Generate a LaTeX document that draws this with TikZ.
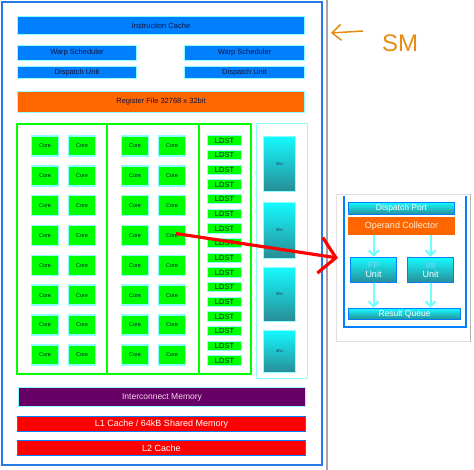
\documentclass[tikz,border=0pt]{standalone}
\usepackage{fontspec}
\setmainfont{Liberation Sans}
\usetikzlibrary{arrows.meta}
\definecolor{smblue}{RGB}{0,128,255}
\definecolor{frameblue}{RGB}{40,120,230}
\definecolor{glow}{RGB}{140,255,255}
\definecolor{ink}{RGB}{20,20,60}
\definecolor{regorange}{RGB}{255,102,0}
\definecolor{coregreen}{RGB}{0,255,0}
\definecolor{icmpurple}{RGB}{102,0,102}
\definecolor{cachered}{RGB}{255,0,0}
\definecolor{sfutop}{RGB}{20,250,255}
\definecolor{sfubot}{RGB}{40,140,150}
\definecolor{pencil}{RGB}{230,140,20}
\begin{document}
\begin{tikzpicture}[x=1pt, y=-1pt,
    every node/.style={inner sep=0pt, align=center},
    blu/.style={fill=smblue, draw=glow, line width=1.5pt, text=ink, font=\fontsize{7.5}{8}\selectfont},
    core/.style={fill=coregreen, draw=glow, line width=1.5pt, minimum width=27pt, minimum height=20pt, text=ink, font=\fontsize{5.5}{5.5}\selectfont},
    ldst/.style={fill=coregreen, draw=glow, line width=1pt, minimum width=34pt, minimum height=9.5pt, text=ink, font=\fontsize{7.5}{7.5}\selectfont},
    sfu/.style={top color=sfutop, bottom color=sfubot, draw=glow, line width=1.5pt, minimum width=32pt, text=ink, font=\fontsize{3.5}{4}\selectfont},
    cache/.style={fill=cachered, draw=smblue, line width=1.5pt, minimum width=288pt, minimum height=15pt, text=white, font=\fontsize{9}{9}\selectfont},
    pipe/.style={top color=sfutop, bottom color=sfubot, draw=smblue, line width=1.5pt, text=white, font=\fontsize{8.5}{9}\selectfont},
    flow/.style={draw=glow!80!cyan, line width=2pt, -{Straight Barb[length=5pt,width=10pt]}}]
  \fill[white] (0,0) rectangle (474,470);
  \useasboundingbox (0,0) rectangle (474,470);

  % SM frame
  \node (sm) [draw=frameblue, line width=2.5pt, minimum width=320pt, minimum height=463pt] at (162,233.5) {};
  \draw[gray!70, line width=2pt] (327,0) -- (327,470);

  \node (icache) [blu, minimum width=287pt, minimum height=18pt] at (161,25.5) {Instruction Cache};
  \node (warp1) [blu, minimum width=119pt, minimum height=15pt] at (77,53) {Warp Scheduler};
  \node (disp1) [blu, minimum width=119pt, minimum height=12pt] at (77,72.5) {Dispatch Unit};
  \node (warp2) [blu, minimum width=120pt, minimum height=15pt] at (244.5,53) {Warp Scheduler};
  \node (disp2) [blu, minimum width=120pt, minimum height=12pt] at (244.5,72.5) {Dispatch Unit};
  \node (regfile) [blu, fill=regorange, minimum width=287pt, minimum height=21pt] at (161,102) {Register File 32768 x 32bit};

  % cores and load/store units
  \node (alu) [draw=coregreen, line width=1.2pt, minimum width=234pt, minimum height=250pt] at (134,249) {};
  \draw[coregreen, line width=1.2pt] (107,124) -- (107,374) (199,124) -- (199,374);
  \foreach \r in {0,...,7}
    \foreach \c/\x in {1/45,2/82,3/135,4/172}
      \node (c-\r-\c) [core] at (\x,{146+29.85*\r}) {Core};
  \foreach \i in {0,...,15}
    \node (ld\i) [ldst] at (224.5,{140.5+14.67*\i}) {LDST};

  \node (sfubox) [draw=glow, line width=1pt, minimum width=51pt, minimum height=254pt] at (281.5,251) {};
  \node (sfu1) [sfu, minimum height=55pt] at (279.5,164) {SFU};
  \node (sfu2) [sfu, minimum height=56pt] at (279.5,230.5) {SFU};
  \node (sfu3) [sfu, minimum height=54pt] at (279.5,294.5) {SFU};
  \node (sfu4) [sfu, minimum height=42pt] at (279.5,351.5) {SFU};

  \node (icm) [blu, fill=icmpurple, text=white!85!magenta, minimum width=287pt, minimum height=19pt, font=\fontsize{8.5}{9}\selectfont] at (162,397) {Interconnect Memory};
  \node (l1) [cache] at (161.5,424) {L1 Cache / 64kB Shared Memory};
  \node (l2) [cache] at (161.5,448) {L2 Cache};

  % note
  \coordinate (pen) at (363,31);
  \coordinate (pentip) at (331,33);
  \draw[pencil, line width=1.5pt, -{Straight Barb[length=9pt,width=16pt]}] (pen) -- (pentip);
  \node (smlabel) [text=pencil, font=\fontsize{24}{24}\selectfont] at (400,43) {SM};

  % core detail
  \node (inset) [draw=gray!25, line width=1pt, fill=white, minimum width=134pt, minimum height=147pt] at (403,268.5) {};
  \draw[gray!60, line width=1.5pt] (inset.north east) -- (inset.south east);
  \draw[smblue, line width=1.8pt] (344,196) |- (466,327) -- (466,196);
  \node (dport) [pipe, minimum width=106pt, minimum height=12pt] at (401.5,208.5) {Dispatch Port};
  \node (opcol) [fill=regorange, text=orange!15!white, minimum width=107pt, minimum height=18pt, font=\fontsize{9}{9}\selectfont] at (401.5,226) {Operand Collector};
  \node (fp) [pipe, minimum width=46pt, minimum height=25pt, font=\fontsize{9}{9.5}\selectfont] at (373.5,270) {\textcolor{white!50!cyan}{FP}\\Unit};
  \node (int) [pipe, minimum width=46pt, minimum height=25pt, font=\fontsize{9}{9.5}\selectfont] at (430.5,270) {\textcolor{white!50!cyan}{Int}\\Unit};
  \node (rq) [pipe, minimum width=112pt, minimum height=11pt] at (404.5,314) {Result Queue};
  \draw[flow] (fp.north |- opcol.south) -- (fp.north);
  \draw[flow] (int.north |- opcol.south) -- (int.north);
  \draw[flow] (fp.south) -- (fp.south |- rq.north);
  \draw[flow] (int.south) -- (int.south |- rq.north);

  \coordinate (tip) at (338,258);
  \draw[cachered, line width=3.2pt, -{Straight Barb[length=16pt,width=36pt]}] ([xshift=4pt,yshift=2pt]c-3-4.center) -- (tip);
\end{tikzpicture}
\end{document}
